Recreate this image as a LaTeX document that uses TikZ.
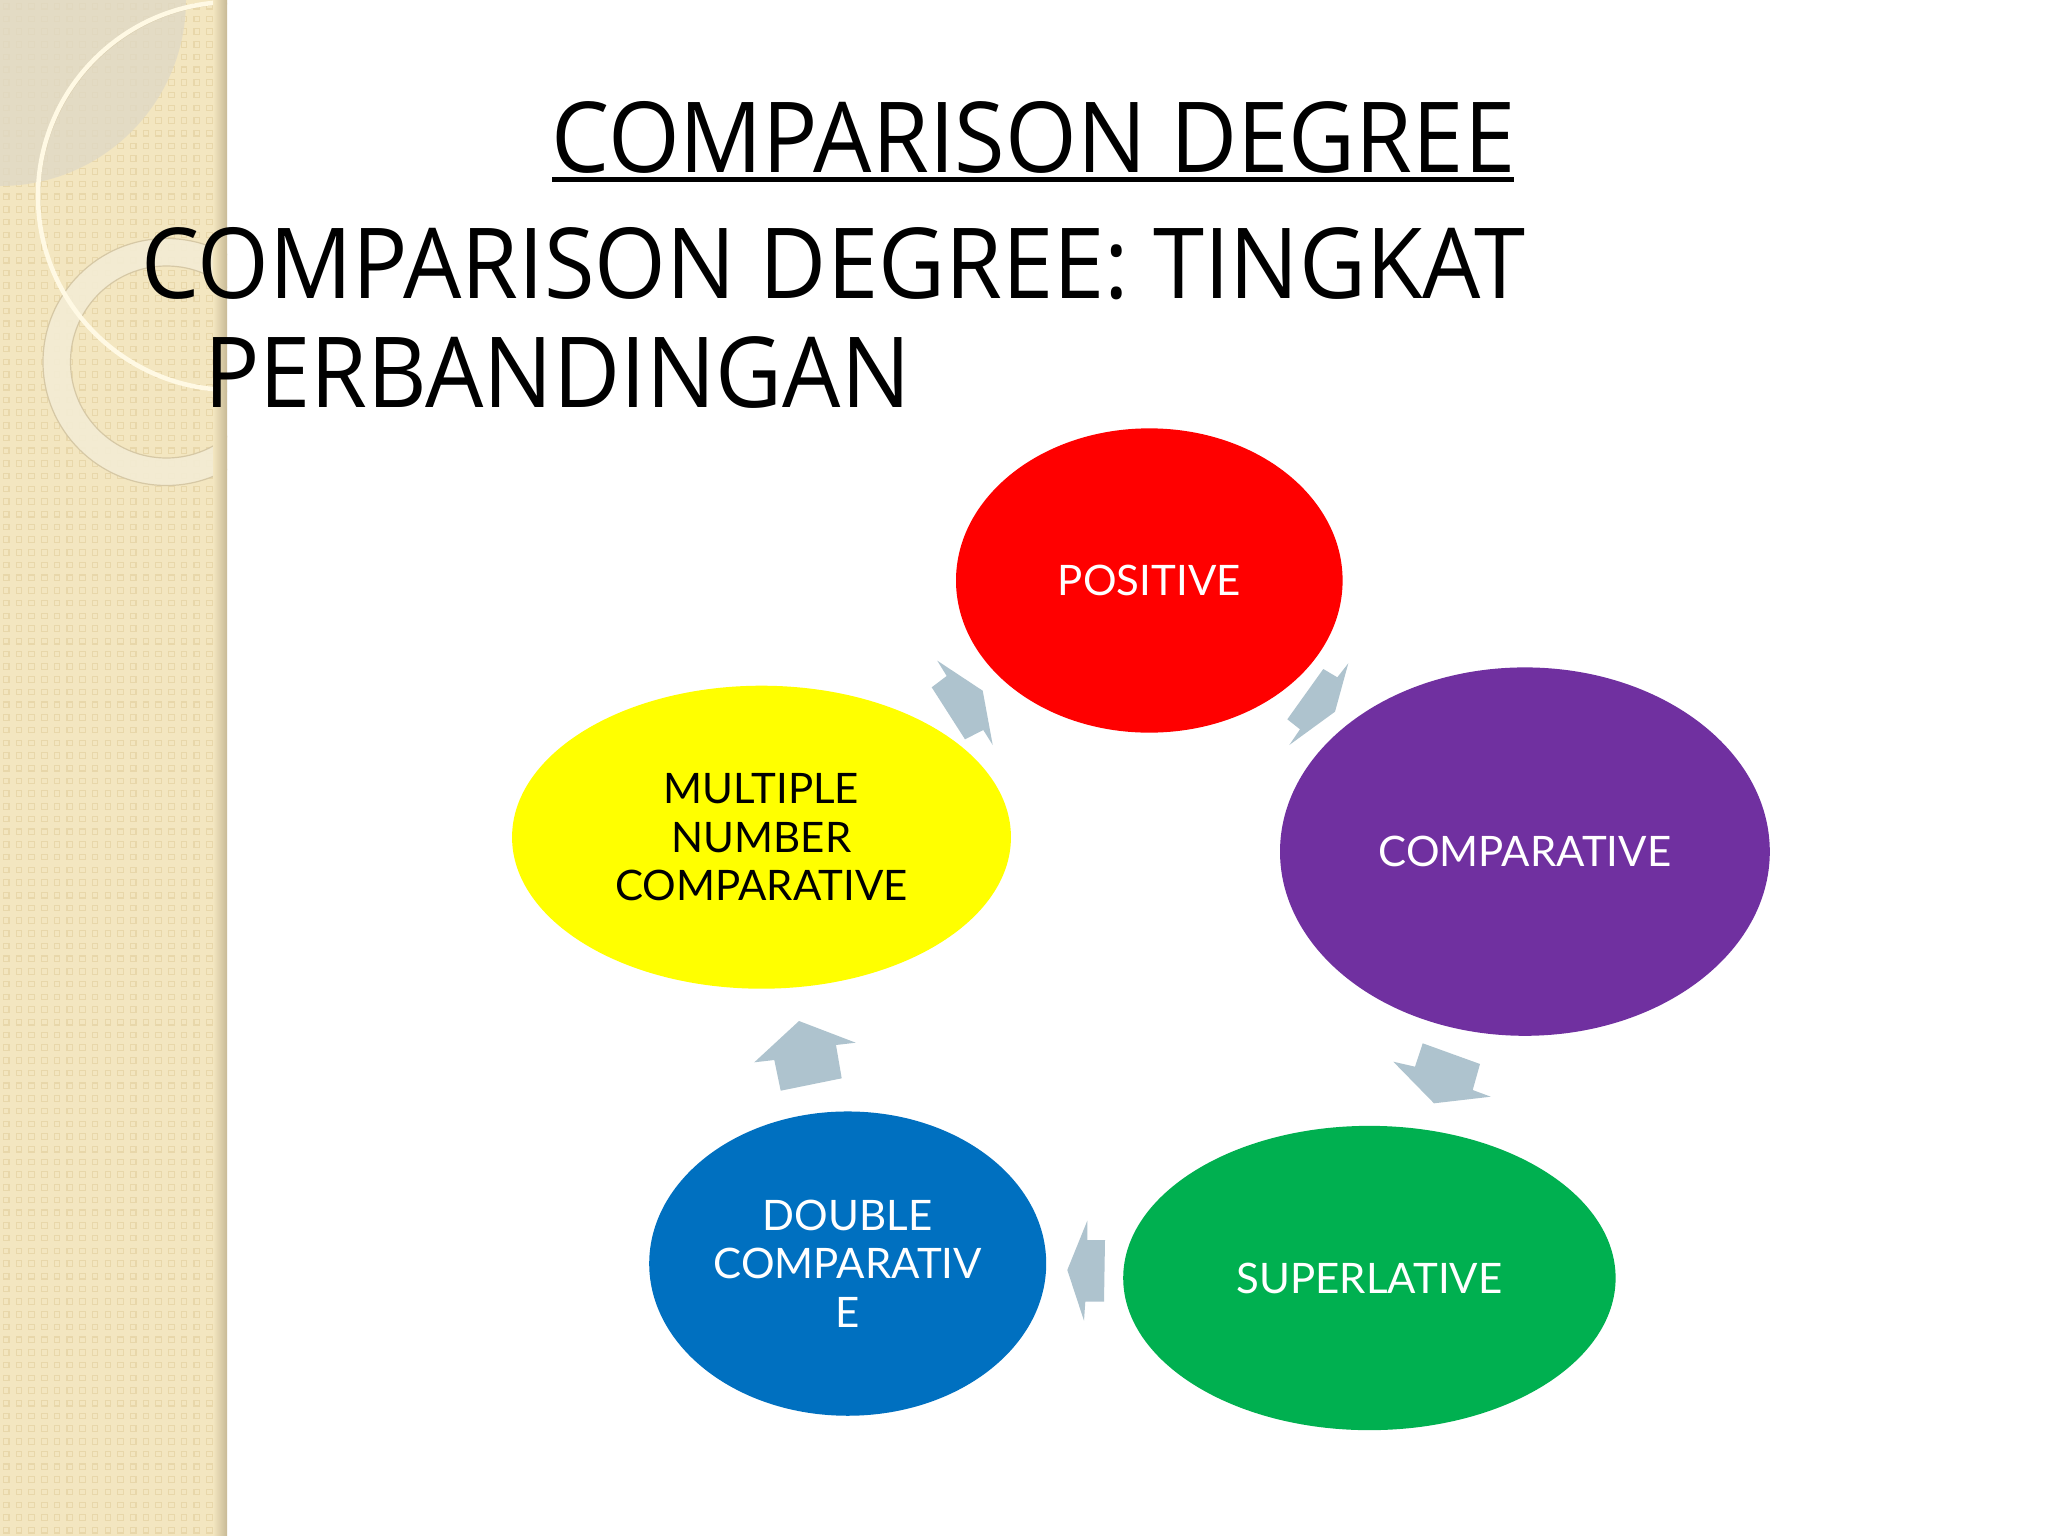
\documentclass[tikz,border=0pt]{standalone}
\usepackage{fontspec}
\usetikzlibrary{shapes.geometric}
\newfontfamily\titlefont[FakeStretch=0.94]{Open Sans}
\newfontfamily\labelfont{Lato}
\definecolor{panel}{RGB}{243,230,192}
\definecolor{paneldot}{RGB}{232,215,170}
\definecolor{panelshadow}{RGB}{200,186,150}
\definecolor{lensc}{RGB}{224,217,197}
\definecolor{ringc}{RGB}{243,236,212}
\definecolor{ringedge}{RGB}{214,200,165}
\definecolor{creamline}{RGB}{255,249,228}
\definecolor{arrowc}{RGB}{174,195,206}
\definecolor{cred}{RGB}{255,0,0}
\definecolor{cpurple}{RGB}{112,48,160}
\definecolor{cgreen}{RGB}{0,176,80}
\definecolor{cblue}{RGB}{0,112,192}
\definecolor{cyellow}{RGB}{255,255,0}
\begin{document}
\begin{tikzpicture}[x=1pt,y=-1pt,
  bubble/.style={ellipse, inner sep=0pt, align=center, draw=none,
    font=\labelfont\fontsize{42}{48.5}\selectfont},
  cyc/.style={fill=arrowc, draw=none},
  bigtext/.style={inner sep=0pt, font=\titlefont\fontsize{98}{118}\selectfont}]
\useasboundingbox (0,0) rectangle (2048,1536);
\fill[white] (0,0) rectangle (2048,1536);
% left panel
\fill[panel] (0,0) rectangle (227,1536);
\foreach \i in {0,...,17} {
  \foreach \j in {0,...,121} {
    \draw[paneldot, line width=1.1] ({\i*12.7+3.5},{\j*12.7+3.5}) rectangle +(5.5,5.5);
  }
}
\begin{scope}
  \clip (0,0) rectangle (227,1536);
  \fill[lensc, opacity=0.8] (0,0) circle (186);
  \fill[ringc, even odd rule, opacity=0.92] (166.5,362) circle (123.5) (166.5,362) circle (96);
  \draw[ringedge, line width=1.2] (166.5,362) circle (123.5) (166.5,362) circle (96);
  \draw[ringedge, line width=1.5, opacity=0.6] (233.5,197.5) circle (194);
  \draw[creamline, line width=4.5] (232,196) circle (194);
\end{scope}
\shade[left color=panel, right color=panelshadow] (213,0) rectangle (227,1536);
% titles
\node[bigtext, anchor=base] (title) at (1033.5,172) {COMPARISON DEGREE};
\draw[line width=5] (552,179) -- (1514,179);
\node[bigtext, anchor=base west] (sub1) at (141,298) {COMPARISON DEGREE: TINGKAT};
\node[bigtext, anchor=base west] (sub2) at (204,407.5) {PERBANDINGAN};
% ellipses
\node[bubble, fill=cred, text=white, minimum width=386.6, minimum height=304.3] (pos) at (1149.3,580.5) {POSITIVE};
\node[bubble, fill=cpurple, text=white, minimum width=489.8, minimum height=368.4] (comp) at (1524.9,851.6) {COMPARATIVE};
\node[bubble, fill=cgreen, text=white, minimum width=492.4, minimum height=304.3] (sup) at (1369.4,1278) {SUPERLATIVE};
\node[bubble, fill=cblue, text=white, minimum width=397, minimum height=304.3] (dbl) at (847.7,1263.6) {DOUBLE\\COMPARATIV\\E};
\node[bubble, fill=cyellow, text=black, minimum width=498.9, minimum height=303] (mult) at (761.5,837.2) {MULTIPLE\\NUMBER\\COMPARATIVE};
% cycle arrows
\fill[cyc] (937.3,660.7) -- (946.7,676) -- (931.7,687.3) -- (965,739.3) -- (983.3,730) -- (992.7,745) -- (982.7,690.7) -- cycle;
\fill[cyc] (1348.3,663.3) -- (1337.3,677.3) -- (1323.3,669) -- (1287.3,719.3) -- (1300,729.3) -- (1289.3,745) -- (1335,711.7) -- cycle;
\fill[cyc] (1393.3,1061.7) -- (1415,1066.7) -- (1422.7,1043.3) -- (1480,1064) -- (1472.7,1090) -- (1490.7,1096.7) -- (1434,1103.3) -- cycle;
\fill[cyc] (1067.3,1270) -- (1087.3,1220.7) -- (1087.3,1240) -- (1105,1240) -- (1104,1301.7) -- (1085.3,1301.7) -- (1084,1320.7) -- cycle;
\fill[cyc] (799,1021) -- (855.7,1042.7) -- (836,1045) -- (841.7,1078.3) -- (780.7,1090.7) -- (774.3,1060) -- (754.3,1062.3) -- cycle;
\end{tikzpicture}
\end{document}
